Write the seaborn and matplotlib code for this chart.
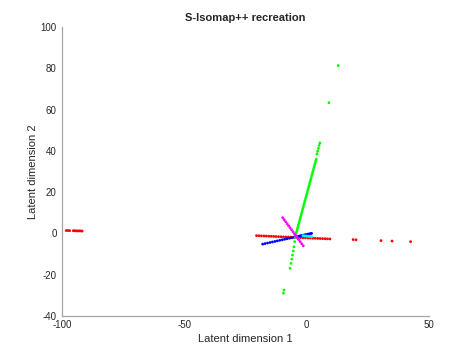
import numpy as np
import pandas as pd
import matplotlib
matplotlib.use("Agg")
import matplotlib.pyplot as plt
import seaborn as sns

# cluster 1 (red): far-left group, main line, right-hand stragglers
red_x = [-98.3, -97.6, -96.9, -95.4, -94.8, -94.2, -93.6, -93.0, -92.4, -91.8,
         -20.5, -19.5, -18.5, -17.5, -16.5, -15.5, -14.5, -13.5, -12.5, -11.5,
         -10.5, -9.5, -8.5, -7.5, -6.5, -5.5, -4.5, -3.5, -2.5, -1.5,
         -0.5, 0.5, 1.5, 2.5, 3.5, 4.5, 5.5, 6.5, 7.5, 8.5, 9.5,
         19.0, 20.2, 30.4, 34.9, 42.5]
red_y = [1.4, 1.4, 1.3, 1.3, 1.3, 1.2, 1.2, 1.2, 1.2, 1.1,
         -1.10, -1.15, -1.21, -1.26, -1.31, -1.37, -1.42, -1.47, -1.53, -1.58,
         -1.63, -1.69, -1.74, -1.79, -1.85, -1.90, -1.95, -2.01, -2.06, -2.11,
         -2.17, -2.22, -2.27, -2.33, -2.38, -2.43, -2.49, -2.54, -2.59, -2.65, -2.70,
         -3.0, -3.1, -3.5, -3.7, -4.0]

# cluster 2 (blue)
blue_x = [-18, -17, -16, -15, -14, -13, -12, -11, -10, -9, -8, -7, -6, -5,
          -4.5, -4, -3.5, -3, -2.5, -2, -1.5, -1, -0.5, 0, 0.5, 1, 1.5, 2]
blue_y = [-5.20, -4.94, -4.68, -4.42, -4.16, -3.90, -3.64, -3.38, -3.12, -2.86,
          -2.60, -2.34, -2.08, -1.82, -1.69, -1.56, -1.43, -1.30, -1.17, -1.04,
          -0.91, -0.78, -0.65, -0.52, -0.39, -0.26, -0.13, 0.0]

# cluster 3 (green)
green_x = [-4.30, -4.07, -3.84, -3.62, -3.39, -3.16, -2.93, -2.70, -2.48, -2.25,
           -2.02, -1.79, -1.56, -1.34, -1.11, -0.88, -0.65, -0.42, -0.20, 0.03,
           0.26, 0.49, 0.72, 0.94, 1.17, 1.40, 1.63, 1.86, 2.08, 2.31,
           2.54, 2.77, 3.00, 3.22, 3.45, 3.68, 3.91,
           4.2, 4.5, 4.8, 5.1, 5.4, 9.1, 12.9,
           -4.6, -4.9, -5.2, -5.5, -5.8, -6.1, -6.4, -6.8, -9.3, -9.5]
green_y = [0, 1, 2, 3, 4, 5, 6, 7, 8, 9,
           10, 11, 12, 13, 14, 15, 16, 17, 18, 19,
           20, 21, 22, 23, 24, 25, 26, 27, 28, 29,
           30, 31, 32, 33, 34, 35, 36,
           38.5, 39.8, 41.2, 42.6, 43.8, 63.3, 81.3,
           -2.0, -4.0, -6.5, -8.5, -10.5, -12.5, -14.5, -16.9, -27.5, -29.0]

# cluster 4 (magenta)
magenta_x = [-9.8, -9.2, -8.6, -8.0, -7.4, -6.8, -6.2, -5.6, -5.0, -4.7,
             -4.4, -4.1, -3.8, -3.5, -3.2, -2.6, -2.0, -1.4]
magenta_y = [7.6, 6.63, 5.66, 4.68, 3.71, 2.74, 1.77, 0.80, -0.18, -0.66,
             -1.15, -1.63, -2.12, -2.60, -3.09, -4.07, -5.04, -6.01]

# cluster 5 (cyan)
cyan_x = [-1.5, -0.8, -0.1, 0.6, 1.3, 2.0]
cyan_y = [-1.1, -1.2, -1.3, -1.4, -1.5, -1.6]

groups = [("red", red_x, red_y), ("blue", blue_x, blue_y),
          ("green", green_x, green_y), ("magenta", magenta_x, magenta_y),
          ("cyan", cyan_x, cyan_y)]
d = {"x": [], "y": [], "cluster": []}
for name, xs, ys in groups:
    d["x"] += list(xs)
    d["y"] += list(ys)
    d["cluster"] += [name] * len(xs)
d = pd.DataFrame(d)

palette = {"red": "#ff0000", "blue": "#0000ff", "green": "#00ff00",
           "magenta": "#ff00ff", "cyan": "#00ffff"}

sns.set_style("white")
plt.rcParams["font.family"] = ["Liberation Sans", "DejaVu Sans"]
plt.rcParams["axes.unicode_minus"] = False

fig = plt.figure(figsize=(4.74, 3.55), dpi=100)
ax = fig.add_axes([0.131, 0.110, 0.774, 0.814])

sns.scatterplot(data=d, x="x", y="y", hue="cluster", palette=palette,
                s=4, linewidth=0, legend=False, ax=ax)

ax.set_xlim(-100, 50)
ax.set_ylim(-40, 100)
ax.set_xticks([-100, -50, 0, 50])
ax.set_yticks([-40, -20, 0, 20, 40, 60, 80, 100])
ax.tick_params(direction="in", length=3, width=0.8, color="#8c8c8c",
               labelsize=7, labelcolor="#262626")
ax.tick_params(axis="y", pad=4)
ax.tick_params(axis="x", pad=3)

for side in ["top", "right"]:
    ax.spines[side].set_visible(False)
for side in ["left", "bottom"]:
    ax.spines[side].set_color("#a6a6a6")
    ax.spines[side].set_linewidth(0.9)

ax.set_xlabel("Latent dimension 1", fontsize=8, color="#262626", labelpad=3)
ax.set_ylabel("Latent dimension 2", fontsize=8, color="#262626", labelpad=2)
ax.set_title("S-Isomap++ recreation", fontsize=8, fontweight="bold", pad=4)

plt.savefig("out.png", dpi=100)
plt.close()
